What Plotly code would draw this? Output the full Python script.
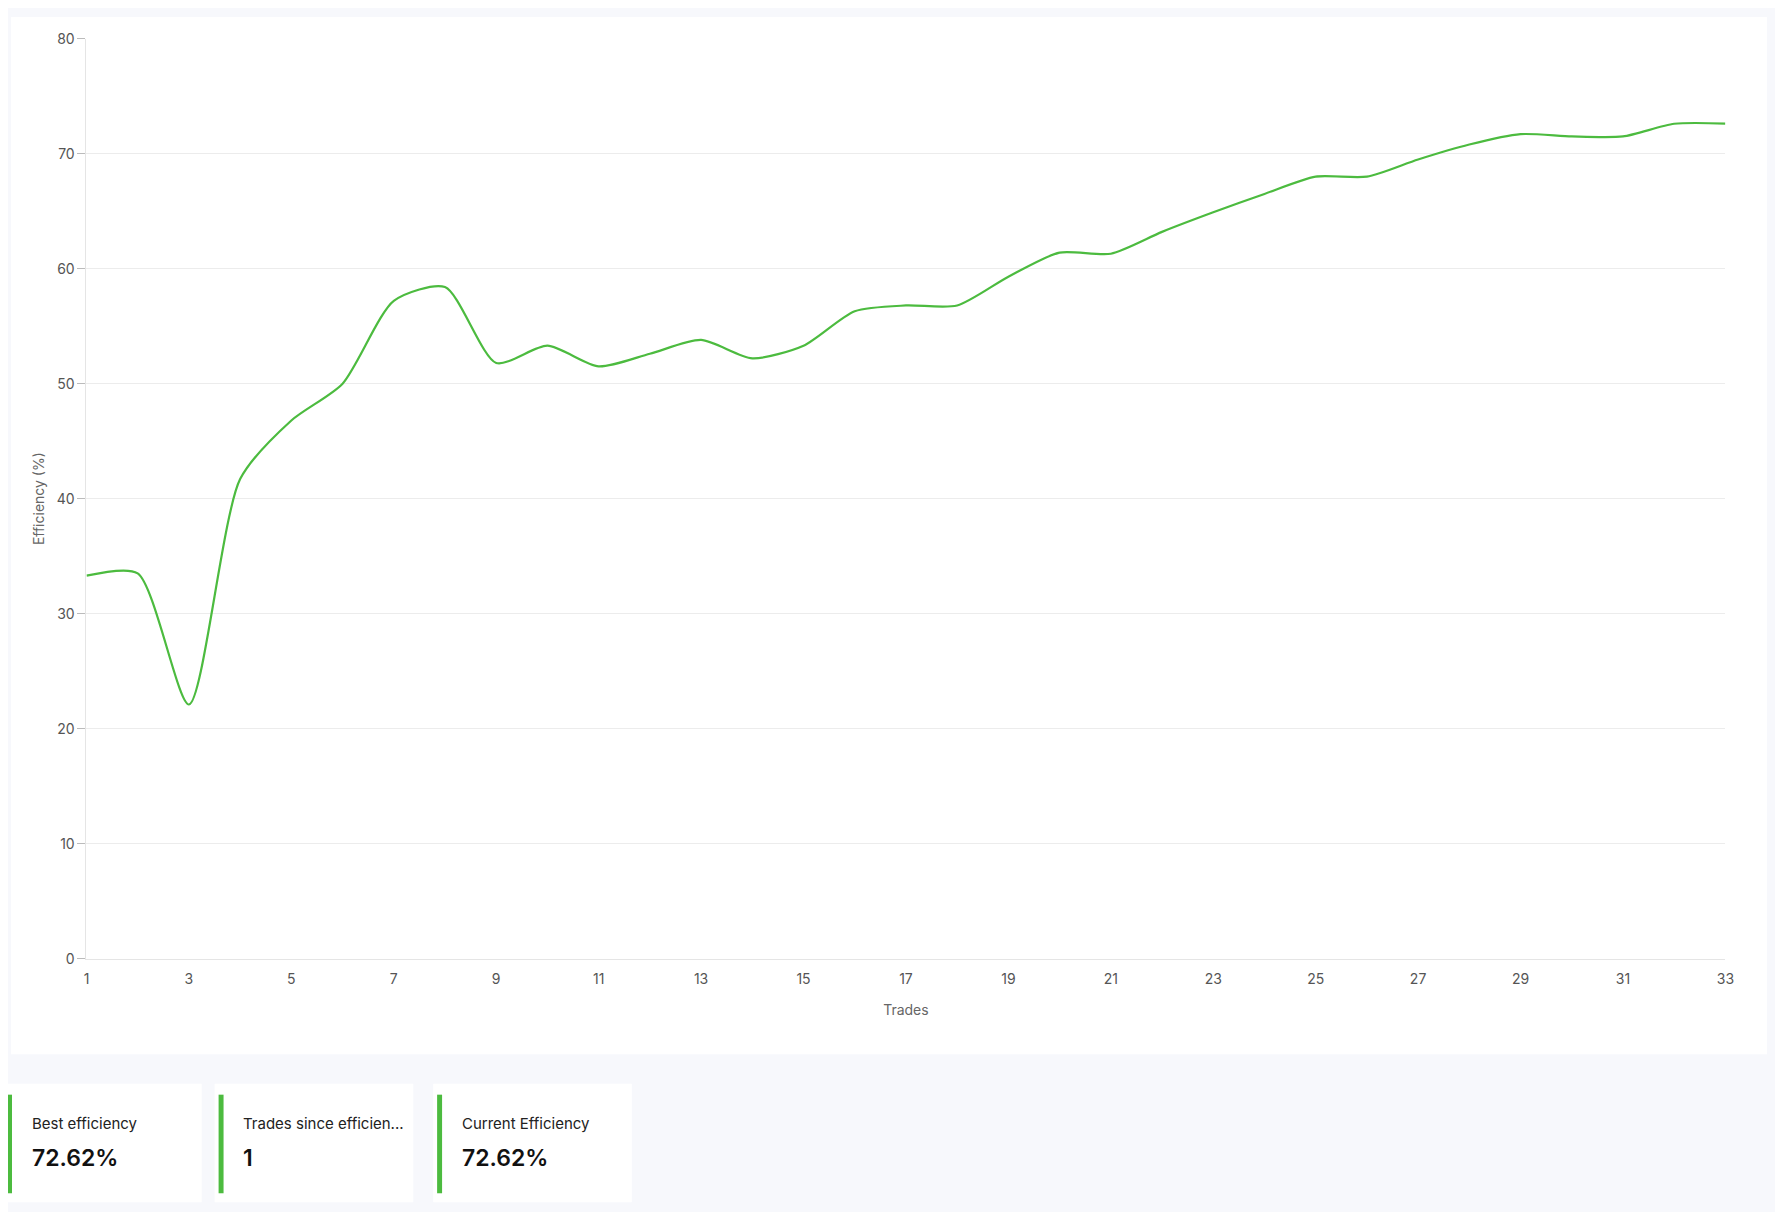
import plotly.graph_objects as go

W, H = 1783, 1212

trades = list(range(1, 34))
efficiency = [33.3, 33.5, 22.1, 41.7, 46.8, 50.0, 57.2, 58.4, 51.8, 53.3, 51.5,
              52.6, 53.8, 52.2, 53.3, 56.3, 56.8, 56.8, 59.3, 61.4, 61.3, 63.2,
              64.9, 66.5, 68.0, 68.0, 69.5, 70.8, 71.7, 71.5, 71.5, 72.6, 72.62]

card_titles = ["Best efficiency", "Trades since efficien...", "Current Efficiency"]
card_values = ["72.62%", "1", "72.62%"]

green = "#4cbb3f"

fig = go.Figure()
fig.add_trace(go.Scatter(x=trades, y=efficiency, mode="lines",
                         line=dict(color=green, width=2.2, shape="spline", smoothing=0.7),
                         hoverinfo="x+y"))


def px(x):
    return x / W


def py(y):
    return 1 - y / H


shapes = [dict(type="rect", xref="paper", yref="paper", x0=0, x1=px(1768),
               y0=py(1052), y1=1, fillcolor="white", line=dict(width=0), layer="below")]
annotations = []
card_left = [-8, 205, 425]
for i, (t, v) in enumerate(zip(card_titles, card_values)):
    x0 = card_left[i]
    shapes.append(dict(type="rect", xref="paper", yref="paper", x0=px(x0), x1=px(x0 + 200),
                       y0=py(1202), y1=py(1082), fillcolor="white", line=dict(width=0),
                       layer="below"))
    shapes.append(dict(type="rect", xref="paper", yref="paper", x0=px(x0 + 4), x1=px(x0 + 9),
                       y0=py(1193), y1=py(1093), fillcolor=green, line=dict(width=0),
                       layer="below"))
    annotations.append(dict(x=px(x0 + 27), y=py(1122), xref="paper", yref="paper",
                            text=t, showarrow=False, xanchor="left", yanchor="middle",
                            font=dict(size=15, color="#222")))
    annotations.append(dict(x=px(x0 + 27), y=py(1157), xref="paper", yref="paper",
                            text=v, showarrow=False, xanchor="left", yanchor="middle",
                            font=dict(size=23, color="#111", weight=600)))

fig.update_layout(
    width=W, height=H, margin=dict(l=0, r=0, t=0, b=0),
    paper_bgcolor="#f7f8fc", plot_bgcolor="white", showlegend=False,
    font=dict(family="Inter", size=14, color="#555"),
    shapes=shapes, annotations=annotations,
    xaxis=dict(domain=[px(76), px(1726)], range=[1, 33], tick0=1, dtick=2,
               showgrid=False, zeroline=False, showline=True, linecolor="#e5e5e5",
               title=dict(text="Trades", font=dict(size=14, color="#666"), standoff=18),
               ticks="outside", tickcolor="rgba(0,0,0,0)", ticklen=8),
    yaxis=dict(domain=[py(955), py(22)], range=[0, 80], dtick=10,
               gridcolor="#ececec", zeroline=False, showline=True, linecolor="#e5e5e5",
               ticks="outside", tickcolor="#bbb", ticklen=8,
               title=dict(text="Efficiency (%)", font=dict(size=14, color="#666"), standoff=8)),
)

fig.write_html("out.html")
